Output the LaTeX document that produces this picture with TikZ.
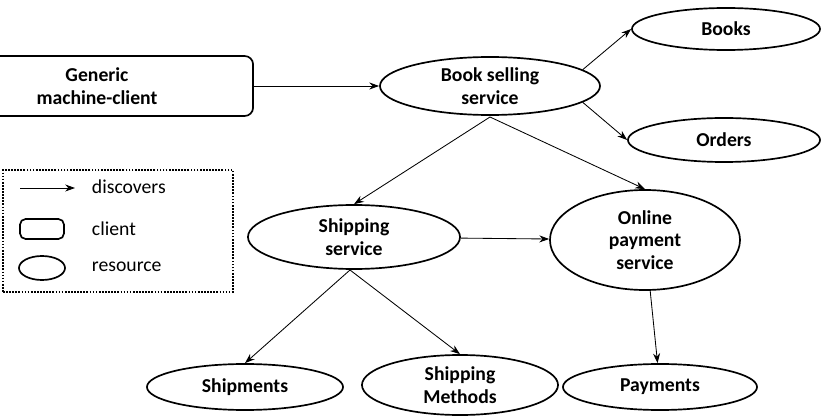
\documentclass[tikz,border=0pt]{standalone}
\usepackage{fontspec}
\setmainfont{Carlito}
\usetikzlibrary{shapes.geometric, positioning, arrows.meta}
\begin{document}
\begin{tikzpicture}[x=0.025cm, y=-0.025cm,
  every node/.style={font=\fontsize{14}{16}\selectfont\bfseries, align=center},
  resource/.style={ellipse, draw, line width=1.2pt, inner sep=0pt},
  client/.style={rectangle, rounded corners=6pt, draw, line width=1.2pt},
  discovers/.style={-{Stealth[length=7pt, width=5pt]}, semithick}]
  \useasboundingbox (0,0) rectangle (825,420);

  \node [client, minimum width=185\pgflinewidth, text width=4.2cm, minimum height=1.5cm] (client) at (97,86) {Generic\\machine-client};
  \node [resource, minimum width=5.5cm, minimum height=1.45cm] (bookselling) at (490,86) {Book selling\\service};
  \node [resource, minimum width=4.7cm, minimum height=1.05cm] (books) at (726,29) {Books};
  \node [resource, minimum width=4.8cm, minimum height=1.1cm] (orders) at (724,140) {Orders};
  \node [resource, minimum width=5.3cm, minimum height=1.6cm] (shipping) at (354,237) {Shipping\\service};
  \node [resource, minimum width=4.75cm, minimum height=2.5cm] (payment) at (645,240) {Online\\payment\\service};
  \node [resource, minimum width=4.9cm, minimum height=1.15cm] (shipments) at (245,387) {Shipments};
  \node [resource, minimum width=4.9cm, minimum height=1.5cm] (methods) at (460,385) {Shipping\\Methods};
  \node [resource, minimum width=4.85cm, minimum height=1.15cm] (payments) at (660,387) {Payments};

  \draw [discovers] (client) -- (bookselling);
  \draw [discovers] (bookselling.10) -- (books.west);
  \draw [discovers] (bookselling.-10) -- (orders.west);
  \coordinate (bsbottom) at (490,117);
  \draw [discovers] (bsbottom) -- (shipping.north);
  \draw [discovers] (bsbottom) -- (payment.north);
  \draw [discovers] (shipping) -- (payment);
  \coordinate (shbottom) at (350,270);
  \draw [discovers] (shbottom) -- (shipments.north);
  \draw [discovers] (shbottom) -- (methods.north);
  \draw [discovers] (payment) -- (payments);

  % legend
  \node [draw, densely dotted, line width=1.2pt, minimum width=5.75cm, minimum height=3.05cm] (legend) at (118,231) {};
  \coordinate (arrowstart) at (20,188);
  \coordinate (arrowend) at (75,188);
  \draw [discovers] (arrowstart) -- (arrowend);
  \node [client, minimum width=1.1cm, minimum height=0.5cm, rounded corners=4pt] (legclient) at (42,229) {};
  \node [resource, minimum width=1.15cm, minimum height=0.6cm] (legresource) at (42,268) {};
  \node [font=\fontsize{14}{16}\selectfont, anchor=west] (ldisc) at (87,187) {discovers};
  \node [font=\fontsize{14}{16}\selectfont, anchor=west] (lclient) at (87,229) {client};
  \node [font=\fontsize{14}{16}\selectfont, anchor=west] (lres) at (87,267) {resource};
\end{tikzpicture}
\end{document}
